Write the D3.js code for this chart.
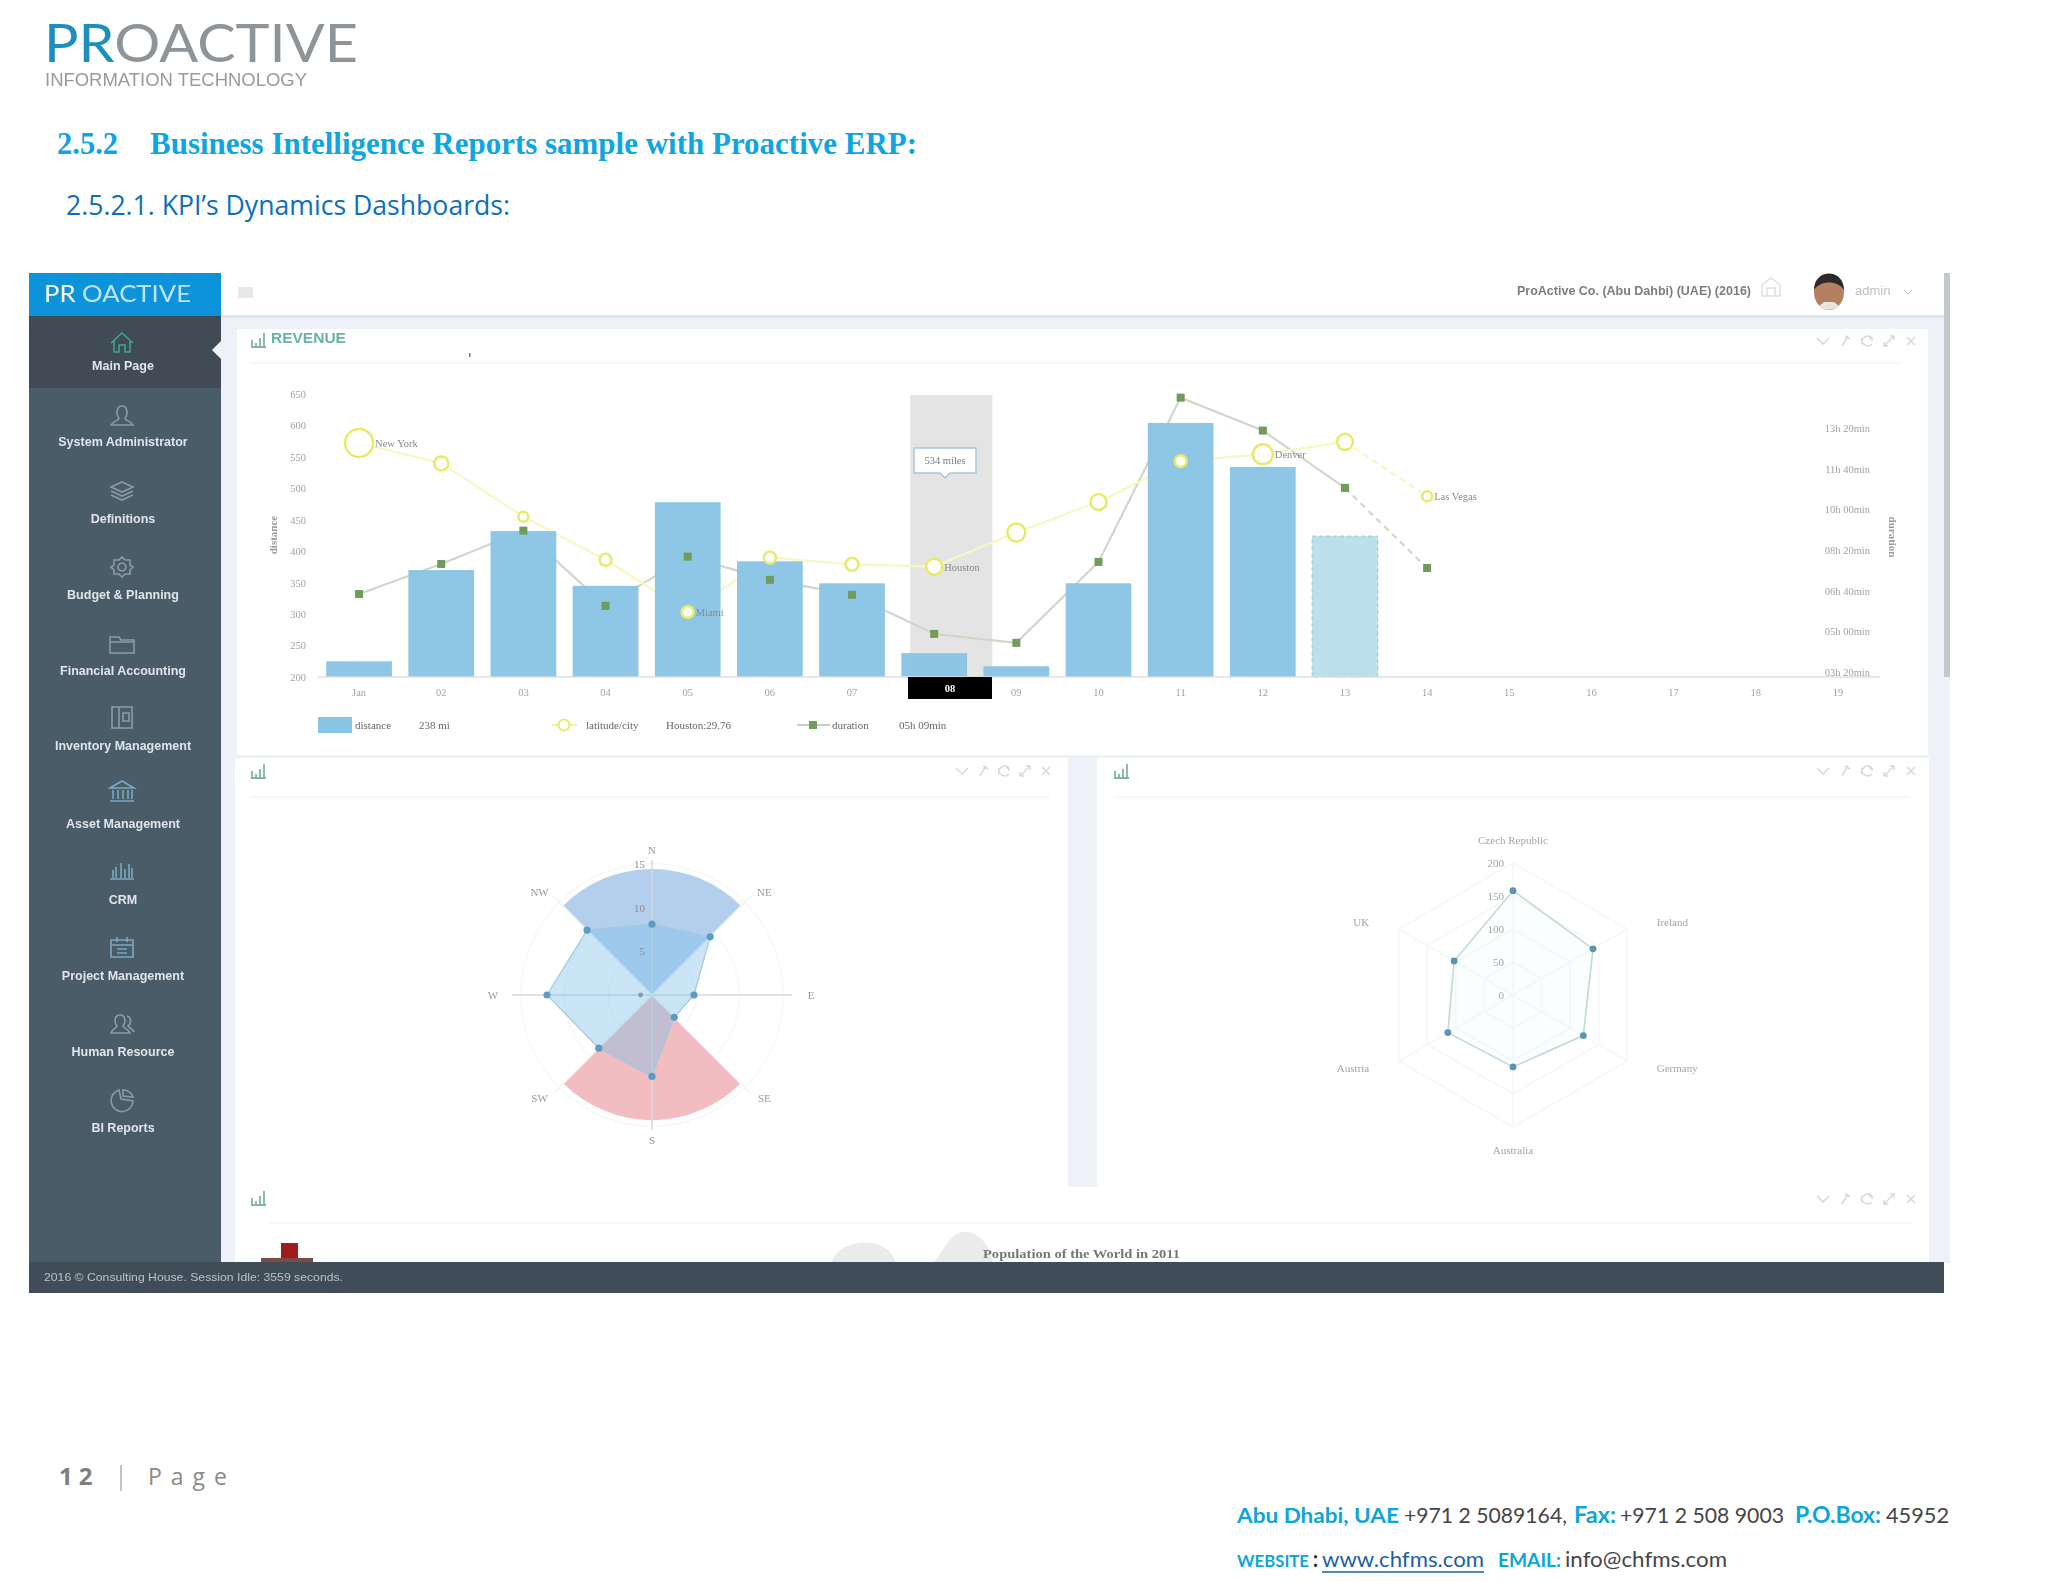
<!DOCTYPE html>
<html>
<head>
<meta charset="utf-8">
<script src="https://cdnjs.cloudflare.com/ajax/libs/d3/7.8.5/d3.min.js"></script>
<style>
html, body { margin: 0; padding: 0; background: #fff; }
svg { display: block; }
text { font-family: "Liberation Sans", sans-serif; }
.serif text, text.serif { font-family: "Liberation Serif", serif; }
.domain { display: none; }
</style>
</head>
<body>
<div id="graphContainer"></div>
<script>
// revenue chart
var months = ["Jan","02","03","04","05","06","07","08","09","10","11","12","13","14","15","16","17","18","19"]
var distances = [225,370,432,345,478,384,349,238,217,349,604,534,424]
var durations = [404,478,560,375,496,439,402,306,284,483,887,806,665,468]
var latitudes = [40.7,38.9,34.2,30.4,25.8,30.6,30.0,29.8,32.8,35.5,39.1,39.7,40.8,36.0]
var citySizes = [14,7,5,6,6,6,6.5,8,9,8,6,10,8,5]
var cityNames = ["New York","","","","Miami","","","Houston","","","","Denver","","Las Vegas"]
var distanceTicks = [200,250,300,350,400,450,500,550,600,650]
var durationTicks = [200,300,400,500,600,700,800]
var durationLabels = ["03h 20min","05h 00min","06h 40min","08h 20min","10h 00min","11h 40min","13h 20min"]

// wind rose
var compass = ["N","NE","E","SE","S","SW","W","NW"]
var roseValues = [8.1,9.4,4.8,3.6,9.3,8.6,12,10.5]
var roseTicks = [5,10,15]
var windBlue = 14.4
var windRed = 14.3
var westInner = 1.3

// radar
var countries = ["Czech Republic","Ireland","Germany","Australia","Austria","UK"]
var litres = [158,140,123,109,114,103]
var radarTicks = [0,50,100,150,200]

// side menu
var menuItems = ["Main Page","System Administrator","Definitions","Budget & Planning","Financial Accounting","Inventory Management","Asset Management","CRM","Project Management","Human Resource","BI Reports"]
var menuTextY = [366,442,519,595,671,746,824,900,976,1052,1128]
var menuIconY = [342,416,491,567,644,718,792,870,947,1025,1100]
var menuIcons = [
  "M-11,1 L0,-9 L11,1 M-8,-1 L-8,10 L-3,10 L-3,3 L3,3 L3,10 L8,10 L8,-1",
  "M0,-10 C6,-10 6,-1 3,2 C2,4 9,5 11,9 L-11,9 C-9,5 -2,4 -3,2 C-6,-1 -6,-10 0,-10Z",
  "M0,-9 L11,-4 L0,1 L-11,-4Z M-11,0 L0,5 L11,0 M-11,4 L0,9 L11,4",
  "M0,-10 L3,-7 L8,-7 L8,-2 L11,0 L8,3 L8,7 L3,7 L0,10 L-3,7 L-8,7 L-8,3 L-11,0 L-8,-2 L-8,-7 L-3,-7Z M0,-4 A4,4 0 1 1 -0.1,-4",
  "M-12,-7 L-3,-7 L-1,-4 L12,-4 L12,9 L-12,9Z M-12,-2 L12,-2",
  "M-10,-11 L10,-11 L10,10 L-10,10Z M-3,-11 L-3,10 M1,-5 L7,-5 L7,3 L1,3Z",
  "M-12,-4 L0,-11 L12,-4Z M-9,-2 L-9,7 M-4,-2 L-4,7 M1,-2 L1,7 M6,-2 L6,7 M10,-2 L10,7 M-12,9 L12,9",
  "M-12,9 L12,9 M-9,8 L-9,0 M-6,8 L-6,-3 M-1,8 L-1,-7 M3,8 L3,-1 M7,8 L7,-6 M10,8 L10,-2",
  "M-11,-7 L11,-7 L11,10 L-11,10Z M-11,-2 L11,-2 M-5,-10 L-5,-5 M5,-10 L5,-5 M-5,2 L5,2 M-5,6 L5,6",
  "M-2,-10 C4,-10 4,-2 1,1 C1,3 7,4 8,8 L-11,8 C-10,4 -5,3 -5,1 C-8,-2 -8,-10 -2,-10Z M5,-9 C10,-8 9,-1 6,1 C7,3 11,4 12,7",
  "M-3,-10 A11,11 0 1 0 11,1 L-1,-1Z M1,-10 A10,10 0 0 1 11,-3 L1,-4Z"
]

var W = 2048, H = 1582

var svg = d3.select("#graphContainer").append("svg")
  .attr("width", W)
  .attr("height", H)

var defs = svg.append("defs")
defs.append("filter").attr("id", "soft")
  .attr("x", "-5%").attr("y", "-5%").attr("width", "110%").attr("height", "110%")
  .append("feGaussianBlur").attr("stdDeviation", 0.7)
defs.append("filter").attr("id", "softer")
  .attr("x", "-5%").attr("y", "-5%").attr("width", "110%").attr("height", "110%")
  .append("feGaussianBlur").attr("stdDeviation", 0.5)

// page head
var logo = svg.append("g").attr("filter", "url(#softer)")
logo.append("text").attr("x", 44).attr("y", 62)
  .attr("style", "font-family:Lato").attr("font-size", 53).attr("font-weight", 300)
  .attr("textLength", 314).attr("lengthAdjust", "spacingAndGlyphs")
  .call(function(t){
    t.append("tspan").attr("fill", "#1e8fbf").attr("font-weight", 400).text("PR")
    t.append("tspan").attr("fill", "#8f9498").attr("font-weight", 400).text("OACTIVE")
  })
logo.append("text").attr("x", 45).attr("y", 86)
  .attr("font-size", 18).attr("fill", "#9a9a9a")
  .attr("textLength", 262).attr("lengthAdjust", "spacingAndGlyphs")
  .text("INFORMATION TECHNOLOGY")

svg.append("text").attr("class", "serif").attr("x", 57).attr("y", 154)
  .attr("font-size", 32).attr("font-weight", 700).attr("fill", "#0ea5e0")
  .attr("textLength", 61).attr("lengthAdjust", "spacingAndGlyphs").text("2.5.2")
svg.append("text").attr("class", "serif").attr("x", 150).attr("y", 154)
  .attr("font-size", 32).attr("font-weight", 700).attr("fill", "#0ea5e0")
  .attr("textLength", 767).attr("lengthAdjust", "spacingAndGlyphs")
  .text("Business Intelligence Reports sample with Proactive ERP:")
svg.append("text").attr("x", 66).attr("y", 215)
  .attr("style", "font-family:'Open Sans'").attr("font-size", 27).attr("fill", "#0b6fbd")
  .attr("textLength", 444).attr("lengthAdjust", "spacingAndGlyphs")
  .text("2.5.2.1. KPI’s Dynamics Dashboards:")

// the app screenshot, slightly soft like the source
var app = svg.append("g").attr("filter", "url(#soft)")

app.append("rect").attr("x", 221).attr("y", 273).attr("width", 1729).attr("height", 990).attr("fill", "#eef2f8")
app.append("rect").attr("x", 221).attr("y", 273).attr("width", 1723).attr("height", 42).attr("fill", "#fff")
app.append("rect").attr("x", 221).attr("y", 315).attr("width", 1723).attr("height", 3).attr("fill", "#dfe5ec")
app.append("rect").attr("x", 1944).attr("y", 273).attr("width", 6).attr("height", 404).attr("fill", "#c2c8d0")
app.append("rect").attr("x", 237).attr("y", 329).attr("width", 1691).attr("height", 426).attr("fill", "#fff")
app.append("rect").attr("x", 235).attr("y", 758).attr("width", 833).attr("height", 429).attr("fill", "#fff")
app.append("rect").attr("x", 1097).attr("y", 758).attr("width", 832).attr("height", 429).attr("fill", "#fff")
app.append("rect").attr("x", 235).attr("y", 1187).attr("width", 1694).attr("height", 76).attr("fill", "#fff")

// side menu
app.append("rect").attr("x", 29).attr("y", 316).attr("width", 192).attr("height", 947).attr("fill", "#4b5b69")
app.append("rect").attr("x", 29).attr("y", 316).attr("width", 192).attr("height", 72).attr("fill", "#3f4c57")
app.append("rect").attr("x", 29).attr("y", 273).attr("width", 192).attr("height", 43).attr("fill", "#0b93d9")
app.append("path").attr("d", "M221,341 L212,350 L221,359Z").attr("fill", "#f1f4f9")
app.append("text").attr("x", 44).attr("y", 302)
  .attr("style", "font-family:Lato").attr("font-size", 23)
  .attr("textLength", 147).attr("lengthAdjust", "spacingAndGlyphs")
  .call(function(t){
    t.append("tspan").attr("fill", "#fff").text("PR ")
    t.append("tspan").attr("fill", "#bfe3f6").text("OACTIVE")
  })

app.selectAll(".menu-text").data(menuItems).enter().append("text")
  .attr("class", "menu-text")
  .attr("x", 123)
  .attr("y", function(d, i){ return menuTextY[i] + 4 })
  .attr("text-anchor", "middle")
  .attr("font-size", 12.5)
  .attr("font-weight", 700)
  .attr("fill", "#dfe5ea")
  .text(function(d){ return d })

app.selectAll(".menu-icon").data(menuIcons).enter().append("path")
  .attr("class", "menu-icon")
  .attr("transform", function(d, i){ return "translate(122," + menuIconY[i] + ")" })
  .attr("d", function(d){ return d })
  .attr("fill", "none")
  .attr("stroke-width", 1.6)
  .attr("stroke", function(d, i){
    if(i == 0) return "#3fa592"
    return (i >= 6 && i <= 8) ? "#7ba9c2" : "#8b9ba8"
  })

// top bar
app.append("rect").attr("x", 238).attr("y", 287).attr("width", 15).attr("height", 11).attr("fill", "#e6e8ea")
app.append("text").attr("x", 1517).attr("y", 295)
  .attr("font-size", 12.5).attr("font-weight", 700).attr("fill", "#7d7d7d")
  .attr("textLength", 234).attr("lengthAdjust", "spacingAndGlyphs")
  .text("ProActive Co. (Abu Dahbi) (UAE) (2016)")
app.append("path").attr("d", "M1762,296 L1762,285 L1771,278 L1780,285 L1780,296Z M1767,296 L1767,288 L1775,288 L1775,296")
  .attr("fill", "none").attr("stroke", "#dcdfe2").attr("stroke-width", 1.5)
app.append("ellipse").attr("cx", 1829).attr("cy", 292).attr("rx", 15).attr("ry", 18).attr("fill", "#b57f62")
app.append("path").attr("d", "M1814,290 C1814,268 1844,268 1844,290 C1838,280 1820,280 1814,290Z").attr("fill", "#2e2a28")
app.append("path").attr("d", "M1819,306 C1824,311 1834,311 1839,306 L1834,302 L1824,302Z").attr("fill", "#e9e4df")
app.append("text").attr("x", 1855).attr("y", 295).attr("font-size", 13).attr("fill", "#c2c2c2").text("admin")
app.append("path").attr("d", "M1904,290 L1908,294 L1912,290").attr("fill", "none").attr("stroke", "#c2c2c2")

// panel chrome
function panelIcon(x, y){
  var g = app.append("g").attr("transform", "translate(" + x + "," + y + ")")
  g.append("path").attr("d", "M-7,7 L-7,0 M-3,7 L-3,3 M1,7 L1,-2 M5,7 L5,-7 M-8,7 L7,7")
    .attr("fill", "none").attr("stroke", "#7fb5a8").attr("stroke-width", 1.8)
}
function panelButtons(x, y, step){
  var icons = [
    "M-6,-3 L0,3 L6,-3",
    "M-3,5 L3,-5 M0,-5 L5,-2",
    "M-5,3 A6,6 0 0 1 5,-3 L5,0 M5,-3 L2,-3 M5,3 A6,6 0 0 1 -5,-3",
    "M-5,5 L5,-5 M1,-5 L5,-5 L5,-1 M-5,1 L-5,5 L-1,5",
    "M-4,-4 L4,4 M4,-4 L-4,4"
  ]
  app.append("g").selectAll("path").data(icons).enter().append("path")
    .attr("transform", function(d, i){ return "translate(" + (x + i * step) + "," + y + ")" })
    .attr("d", function(d){ return d })
    .attr("fill", "none").attr("stroke", "#d5d9dd").attr("stroke-width", 1.5)
}
function panelRule(x1, x2, y){
  app.append("line").attr("x1", x1).attr("x2", x2).attr("y1", y).attr("y2", y)
    .attr("stroke", "#f5f6f7").attr("stroke-width", 1.5)
}
panelIcon(259, 340)
panelIcon(259, 771)
panelIcon(1122, 771)
panelIcon(259, 1198)
panelButtons(1823, 341, 22)
panelButtons(962, 771, 21)
panelButtons(1823, 771, 22)
panelButtons(1823, 1199, 22)
panelRule(250, 1900, 363)
panelRule(250, 1050, 797)
panelRule(1115, 1910, 797)
panelRule(268, 1913, 1223)

app.append("text").attr("x", 271).attr("y", 343)
  .attr("font-size", 15.5).attr("font-weight", 700).attr("fill", "#67b3a3").text("REVENUE")
app.append("rect").attr("x", 469).attr("y", 353).attr("width", 1.5).attr("height", 4).attr("fill", "#777")

// scales for the revenue chart
var x = d3.scaleBand().domain(months).range([318, 1879]).paddingInner(.2).paddingOuter(.1)
var yDistance = d3.scaleLinear().domain([200, 650]).range([677, 394])
var yDuration = d3.scaleLinear().domain([200, 800]).range([677, 433])
var yLatitude = d3.scaleLinear().domain([25.8, 40.7]).range([612, 443])

function cx(i){ return x(months[i]) + x.bandwidth() / 2 }

var chart = app.append("g").attr("class", "serif")

// hover band sits a little right of the 08 bar in the source
chart.append("rect")
  .attr("x", x("08") + 9).attr("y", 395)
  .attr("width", 82).attr("height", 282)
  .attr("fill", "#e4e4e5")

function lineFor(scale, values){
  return d3.line().x(function(d, i){ return cx(i) }).y(function(d){ return scale(d) })(values)
}

function drawLine(values, scale, color){
  chart.append("path").attr("d", lineFor(scale, values.slice(0, values.length - 1)))
    .attr("fill", "none").attr("stroke", color).attr("stroke-width", 2.2)
  var n = values.length
  chart.append("line")
    .attr("x1", cx(n - 2)).attr("y1", scale(values[n - 2]))
    .attr("x2", cx(n - 1)).attr("y2", scale(values[n - 1]))
    .attr("stroke", color).attr("stroke-width", 2.2).attr("stroke-dasharray", "6,5")
}
drawLine(durations, yDuration, "#d2d6ca")
drawLine(latitudes, yLatitude, "#f7f7c2")

chart.selectAll(".bar").data(distances).enter().append("rect")
  .attr("class", "bar")
  .attr("x", function(d, i){ return x(months[i]) })
  .attr("y", function(d){ return yDistance(d) })
  .attr("width", x.bandwidth())
  .attr("height", function(d){ return 677 - yDistance(d) })
  .attr("fill", function(d, i){ return i == 12 ? "#bcdfec" : "#88c4e4" })
  .attr("fill-opacity", function(d, i){ return i == 12 ? 1 : .95 })
  .attr("stroke", function(d, i){ return i == 12 ? "#9ec7da" : "none" })
  .attr("stroke-dasharray", "4,3")

chart.selectAll(".dur").data(durations).enter().append("rect")
  .attr("class", "dur")
  .attr("x", function(d, i){ return cx(i) - 4 })
  .attr("y", function(d){ return yDuration(d) - 4 })
  .attr("width", 8).attr("height", 8)
  .attr("fill", "#6f9b5c")

chart.selectAll(".lat").data(latitudes).enter().append("circle")
  .attr("class", "lat")
  .attr("cx", function(d, i){ return cx(i) })
  .attr("cy", function(d){ return yLatitude(d) })
  .attr("r", function(d, i){ return citySizes[i] })
  .attr("fill", "#fff")
  .attr("stroke", "#e9e96a").attr("stroke-width", 2.5)

chart.selectAll(".city").data(cityNames).enter().append("text")
  .attr("class", "city")
  .attr("x", function(d, i){ return cx(i) + citySizes[i] + 2 })
  .attr("y", function(d, i){ return yLatitude(latitudes[i]) + 4 })
  .attr("font-size", 10.5).attr("fill", "#8a8a8a")
  .text(function(d){ return d })

// axes
var leftAxis = chart.append("g").attr("transform", "translate(318,0)")
  .call(d3.axisLeft(yDistance).tickValues(distanceTicks).tickSize(0).tickPadding(12))
var rightAxis = chart.append("g").attr("transform", "translate(1870,-5)")
  .call(d3.axisLeft(yDuration).tickValues(durationTicks).tickSize(0).tickPadding(0)
    .tickFormat(function(d, i){ return durationLabels[i] }))
var bottomAxis = chart.append("g").attr("transform", "translate(0,677)")
  .call(d3.axisBottom(x).tickSize(0).tickPadding(12))
chart.selectAll("g.tick text")
  .attr("font-family", "Liberation Serif").attr("font-size", 10.5).attr("fill", "#a2a2a2")
chart.append("line").attr("x1", 318).attr("x2", 1880).attr("y1", 677).attr("y2", 677)
  .attr("stroke", "#dcdfe0").attr("stroke-width", 1.5)

chart.append("text").attr("transform", "translate(277,535) rotate(-90)")
  .attr("text-anchor", "middle").attr("font-size", 11).attr("font-weight", 700).attr("fill", "#999").text("distance")
chart.append("text").attr("transform", "translate(1889,537) rotate(90)")
  .attr("text-anchor", "middle").attr("font-size", 11).attr("font-weight", 700).attr("fill", "#999").text("duration")

// cursor label and balloon
chart.append("rect").attr("x", 908).attr("y", 677).attr("width", 84).attr("height", 22).attr("fill", "#000")
chart.append("text").attr("x", 950).attr("y", 692).attr("text-anchor", "middle")
  .attr("font-size", 10.5).attr("font-weight", 700).attr("fill", "#fff").text("08")
chart.append("path").attr("d", "M914,448 L976,448 L976,473 L950,473 L945,478 L940,473 L914,473Z")
  .attr("fill", "#fff").attr("stroke", "#a6c8da").attr("stroke-width", 1.5)
chart.append("text").attr("x", 945).attr("y", 464).attr("text-anchor", "middle")
  .attr("font-size", 10.5).attr("fill", "#6b7f8a").text("534 miles")

// legend
var legend = chart.append("g").attr("font-size", 11).attr("fill", "#666")
legend.append("rect").attr("x", 318).attr("y", 717).attr("width", 34).attr("height", 16).attr("fill", "#88c4e4")
legend.append("text").attr("x", 355).attr("y", 729).text("distance")
legend.append("text").attr("x", 419).attr("y", 729).text("238 mi")
legend.append("line").attr("x1", 552).attr("x2", 577).attr("y1", 725).attr("y2", 725).attr("stroke", "#f0f0a8").attr("stroke-width", 2)
legend.append("circle").attr("cx", 564).attr("cy", 725).attr("r", 5.5).attr("fill", "#fff").attr("stroke", "#e9e96a").attr("stroke-width", 2)
legend.append("text").attr("x", 586).attr("y", 729).text("latitude/city")
legend.append("text").attr("x", 666).attr("y", 729).text("Houston:29.76")
legend.append("line").attr("x1", 797).attr("x2", 830).attr("y1", 725).attr("y2", 725).attr("stroke", "#c9cec2").attr("stroke-width", 2)
legend.append("rect").attr("x", 809).attr("y", 721).attr("width", 8).attr("height", 8).attr("fill", "#6f9b5c")
legend.append("text").attr("x", 832).attr("y", 729).text("duration")
legend.append("text").attr("x", 899).attr("y", 729).text("05h 09min")

// wind rose
var rose = app.append("g").attr("class", "serif").attr("transform", "translate(652,995)")
var rRose = d3.scaleLinear().domain([0, 16]).range([0, 140])
var angleStep = Math.PI / 4

rose.selectAll(".ring").data(roseTicks).enter().append("circle")
  .attr("class", "ring")
  .attr("r", function(d){ return rRose(d) })
  .attr("fill", "none").attr("stroke", "#f8f8f9").attr("stroke-width", 1.5)

var arc = d3.arc().innerRadius(0)
rose.append("path")
  .attr("d", arc({outerRadius: rRose(windBlue), startAngle: -angleStep, endAngle: angleStep}))
  .attr("fill", "#b4cfee")
rose.append("path")
  .attr("d", arc({outerRadius: rRose(windRed), startAngle: 3 * angleStep, endAngle: 5 * angleStep}))
  .attr("fill", "#f3bcc0")

rose.selectAll(".spoke").data(compass).enter().append("line")
  .attr("class", "spoke")
  .attr("x2", function(d, i){ return 140 * Math.sin(i * angleStep) })
  .attr("y2", function(d, i){ return -(i % 4 == 0 ? 135 : 140) * Math.cos(i * angleStep) })
  .attr("stroke", function(d, i){ return i % 2 == 0 ? "#d5d8dc" : "#f2f3f4" })
  .attr("stroke-width", 1.5)

var rosePoint = function(d, i){
  return [rRose(d) * Math.sin(i * angleStep), -rRose(d) * Math.cos(i * angleStep)]
}
rose.append("path")
  .attr("d", d3.line()(roseValues.map(rosePoint)) + "Z")
  .attr("fill", "#7fc0ea").attr("fill-opacity", .42)
  .attr("stroke", "#a3cadb").attr("stroke-width", 1.2)
rose.selectAll(".rose-dot").data(roseValues).enter().append("circle")
  .attr("class", "rose-dot")
  .attr("cx", function(d, i){ return rosePoint(d, i)[0] })
  .attr("cy", function(d, i){ return rosePoint(d, i)[1] })
  .attr("r", 3.6).attr("fill", "#5c9cc4")
rose.append("circle")
  .attr("cx", rosePoint(westInner, 6)[0])
  .attr("cy", rosePoint(westInner, 6)[1])
  .attr("r", 2.4).attr("fill", "#7d9db4")

rose.selectAll(".dir").data(compass).enter().append("text")
  .attr("class", "dir")
  .attr("x", function(d, i){ return 159 * Math.sin(i * angleStep) })
  .attr("y", function(d, i){ return -145 * Math.cos(i * angleStep) + 4 })
  .attr("text-anchor", "middle").attr("font-size", 11).attr("fill", "#999")
  .text(function(d){ return d })

rose.selectAll(".rose-tick").data(roseTicks).enter().append("text")
  .attr("class", "rose-tick")
  .attr("x", -7)
  .attr("y", function(d){ return -rRose(d) + 4 })
  .attr("text-anchor", "end").attr("font-size", 11).attr("fill", "#8d8d8d")
  .text(function(d){ return d })

// radar
var radar = app.append("g").attr("class", "serif").attr("transform", "translate(1513,995)")
var rRadar = d3.scaleLinear().domain([0, 200]).range([0, 132])
var radarStep = 2 * Math.PI / countries.length
var radarPoint = function(d, i){
  return [rRadar(d) * Math.sin(i * radarStep), -rRadar(d) * Math.cos(i * radarStep)]
}

radar.selectAll(".web").data(radarTicks.slice(1)).enter().append("path")
  .attr("class", "web")
  .attr("d", function(t){ return d3.line()(countries.map(function(c, i){ return radarPoint(t, i) })) + "Z" })
  .attr("fill", "none").attr("stroke", "#f7f7f8").attr("stroke-width", 1.6)
radar.selectAll(".web-spoke").data(countries).enter().append("line")
  .attr("class", "web-spoke")
  .attr("x2", function(d, i){ return radarPoint(200, i)[0] })
  .attr("y2", function(d, i){ return radarPoint(200, i)[1] })
  .attr("stroke", "#f7f7f8").attr("stroke-width", 1.6)
radar.append("path")
  .attr("d", d3.line()(litres.map(radarPoint)) + "Z")
  .attr("fill", "#e6f8f8").attr("fill-opacity", .15)
  .attr("stroke", "#c0dad5").attr("stroke-width", 1.6)
radar.selectAll(".radar-dot").data(litres).enter().append("circle")
  .attr("class", "radar-dot")
  .attr("cx", function(d, i){ return radarPoint(d, i)[0] })
  .attr("cy", function(d, i){ return radarPoint(d, i)[1] })
  .attr("r", 3.4).attr("fill", "#5c93b4")

radar.selectAll(".country").data(countries).enter().append("text")
  .attr("class", "country")
  .attr("x", function(d, i){ return (i % 3 == 0 ? 0 : 166) * Math.sin(i * radarStep) })
  .attr("y", function(d, i){ return -(i % 3 == 0 ? 155 : 146) * Math.cos(i * radarStep) + 4 })
  .attr("text-anchor", function(d, i){ return i % 3 == 0 ? "middle" : (i < 3 ? "start" : "end") })
  .attr("font-size", 11).attr("fill", "#a5a5a5")
  .text(function(d){ return d })

radar.selectAll(".radar-tick").data(radarTicks).enter().append("text")
  .attr("class", "radar-tick")
  .attr("x", -9)
  .attr("y", function(d){ return -rRadar(d) + 4 })
  .attr("text-anchor", "end").attr("font-size", 11).attr("fill", "#a5a5a5")
  .text(function(d){ return d })

// bit of the map panel that shows above the footer
app.append("path").attr("d", "M832,1262 C838,1238 888,1234 895,1262Z").attr("fill", "#ebebeb")
app.append("path").attr("d", "M934,1262 C945,1250 950,1230 968,1232 C985,1236 990,1250 993,1262Z").attr("fill", "#ebebeb")
app.append("text").attr("class", "serif").attr("x", 983).attr("y", 1258)
  .attr("font-size", 13).attr("font-weight", 700).attr("fill", "#777")
  .attr("textLength", 197).attr("lengthAdjust", "spacingAndGlyphs")
  .text("Population of the World in 2011")
app.append("rect").attr("x", 281).attr("y", 1243).attr("width", 17).attr("height", 17).attr("fill", "#a31d1d")
app.append("rect").attr("x", 261).attr("y", 1258).attr("width", 52).attr("height", 4).attr("fill", "#7d4a4a")

// app footer
app.append("rect").attr("x", 29).attr("y", 1262).attr("width", 1915).attr("height", 31).attr("fill", "#414d58")
app.append("text").attr("x", 44).attr("y", 1281)
  .attr("font-size", 11.5).attr("fill", "#b9c0c6")
  .attr("textLength", 299).attr("lengthAdjust", "spacingAndGlyphs")
  .text("2016 © Consulting House. Session Idle: 3559 seconds.")

// page foot
var pageFoot = svg.append("g")
pageFoot.append("text").attr("x", 59).attr("y", 1485)
  .attr("style", "font-family:'Open Sans';letter-spacing:6px")
  .attr("font-size", 24).attr("font-weight", 700).attr("fill", "#7f7f7f").text("12")
pageFoot.append("line").attr("x1", 121).attr("x2", 121).attr("y1", 1465).attr("y2", 1491).attr("stroke", "#8a8a8a")
pageFoot.append("text").attr("x", 148).attr("y", 1485)
  .attr("style", "font-family:'Open Sans';letter-spacing:9px")
  .attr("font-size", 23).attr("fill", "#8a8a8a").text("Page")

var cyan = "#0ea5d8", ink = "#454545"
var contactOne = [
  ["Abu Dhabi, UAE", cyan, 700, 1237, 21.5, 162],
  ["+971 2 5089164,", ink, 400, 1404, 22, 163],
  ["Fax:", cyan, 700, 1574, 22, 42],
  ["+971 2 508 9003", ink, 400, 1620, 22, 164],
  ["P.O.Box:", cyan, 700, 1795, 22, 86],
  ["45952", ink, 400, 1886, 22, 63]
]
var contactTwo = [
  ["WEBSITE", cyan, 700, 1237, 17, 72],
  [":", "#222", 700, 1313, 22, 5],
  ["www.chfms.com", "#1d5f9f", 400, 1322, 22, 162],
  ["EMAIL:", cyan, 700, 1498, 18, 63],
  ["info@chfms.com", ink, 400, 1565, 22, 162]
]
function contactLine(rows, y){
  svg.append("g").selectAll("text").data(rows).enter().append("text")
    .attr("x", function(d){ return d[3] })
    .attr("y", y)
    .attr("style", "font-family:Lato")
    .attr("font-size", function(d){ return d[4] })
    .attr("font-weight", function(d){ return d[2] })
    .attr("fill", function(d){ return d[1] })
    .attr("textLength", function(d){ return d[5] })
    .attr("lengthAdjust", "spacingAndGlyphs")
    .text(function(d){ return d[0] })
}
contactLine(contactOne, 1523)
contactLine(contactTwo, 1567)
svg.append("line").attr("x1", 1322).attr("x2", 1484).attr("y1", 1572).attr("y2", 1572)
  .attr("stroke", "#1d5f9f").attr("stroke-width", 1.5)
</script>
</body>
</html>
